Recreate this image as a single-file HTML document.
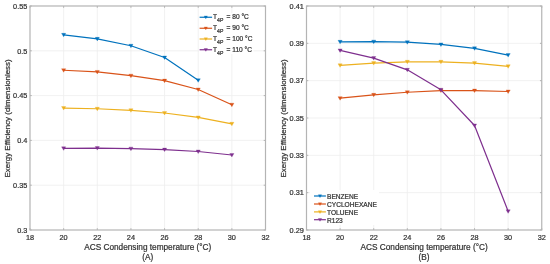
<!DOCTYPE html>
<html><head><meta charset="utf-8"><style>
html,body{margin:0;padding:0;background:#fff;}
svg{display:block;will-change:transform;filter:blur(0.3px);}
text{font-family:"Liberation Sans",sans-serif;stroke:#333;stroke-width:0.22px;}
</style></head><body>
<svg width="550" height="264" viewBox="0 0 550 264" font-family="Liberation Sans, sans-serif">
<rect width="550" height="264" fill="#fff"/>
<line x1="63.64" y1="6.0" x2="63.64" y2="230.0" stroke="#ededed" stroke-width="0.8"/>
<line x1="97.29" y1="6.0" x2="97.29" y2="230.0" stroke="#ededed" stroke-width="0.8"/>
<line x1="130.93" y1="6.0" x2="130.93" y2="230.0" stroke="#ededed" stroke-width="0.8"/>
<line x1="164.57" y1="6.0" x2="164.57" y2="230.0" stroke="#ededed" stroke-width="0.8"/>
<line x1="198.21" y1="6.0" x2="198.21" y2="230.0" stroke="#ededed" stroke-width="0.8"/>
<line x1="231.86" y1="6.0" x2="231.86" y2="230.0" stroke="#ededed" stroke-width="0.8"/>
<line x1="30.0" y1="185.20" x2="265.5" y2="185.20" stroke="#ededed" stroke-width="0.8"/>
<line x1="30.0" y1="140.40" x2="265.5" y2="140.40" stroke="#ededed" stroke-width="0.8"/>
<line x1="30.0" y1="95.60" x2="265.5" y2="95.60" stroke="#ededed" stroke-width="0.8"/>
<line x1="30.0" y1="50.80" x2="265.5" y2="50.80" stroke="#ededed" stroke-width="0.8"/>
<polyline points="63.64,34.85 97.29,38.88 130.93,45.78 164.57,57.52 198.21,80.28" fill="none" stroke="#0072BD" stroke-width="1.2" stroke-linejoin="round"/>
<path d="M61.54,33.34L65.74,33.34L63.64,36.85Z" fill="#0072BD" stroke="#0072BD" stroke-width="0.3"/>
<path d="M95.19,37.37L99.39,37.37L97.29,40.88Z" fill="#0072BD" stroke="#0072BD" stroke-width="0.3"/>
<path d="M128.83,44.27L133.03,44.27L130.93,47.78Z" fill="#0072BD" stroke="#0072BD" stroke-width="0.3"/>
<path d="M162.47,56.01L166.67,56.01L164.57,59.52Z" fill="#0072BD" stroke="#0072BD" stroke-width="0.3"/>
<path d="M196.11,78.77L200.31,78.77L198.21,82.27Z" fill="#0072BD" stroke="#0072BD" stroke-width="0.3"/>
<polyline points="63.64,70.24 97.29,71.95 130.93,75.71 164.57,80.64 198.21,89.51 231.86,104.74" fill="none" stroke="#D95319" stroke-width="1.2" stroke-linejoin="round"/>
<path d="M61.54,68.73L65.74,68.73L63.64,72.24Z" fill="#D95319" stroke="#D95319" stroke-width="0.3"/>
<path d="M95.19,70.43L99.39,70.43L97.29,73.94Z" fill="#D95319" stroke="#D95319" stroke-width="0.3"/>
<path d="M128.83,74.20L133.03,74.20L130.93,77.70Z" fill="#D95319" stroke="#D95319" stroke-width="0.3"/>
<path d="M162.47,79.12L166.67,79.12L164.57,82.63Z" fill="#D95319" stroke="#D95319" stroke-width="0.3"/>
<path d="M196.11,88.00L200.31,88.00L198.21,91.50Z" fill="#D95319" stroke="#D95319" stroke-width="0.3"/>
<path d="M229.76,103.23L233.96,103.23L231.86,106.73Z" fill="#D95319" stroke="#D95319" stroke-width="0.3"/>
<polyline points="63.64,108.05 97.29,108.77 130.93,110.29 164.57,112.98 198.21,117.46 231.86,123.82" fill="none" stroke="#EDB120" stroke-width="1.2" stroke-linejoin="round"/>
<path d="M61.54,106.54L65.74,106.54L63.64,110.05Z" fill="#EDB120" stroke="#EDB120" stroke-width="0.3"/>
<path d="M95.19,107.26L99.39,107.26L97.29,110.77Z" fill="#EDB120" stroke="#EDB120" stroke-width="0.3"/>
<path d="M128.83,108.78L133.03,108.78L130.93,112.29Z" fill="#EDB120" stroke="#EDB120" stroke-width="0.3"/>
<path d="M162.47,111.47L166.67,111.47L164.57,114.98Z" fill="#EDB120" stroke="#EDB120" stroke-width="0.3"/>
<path d="M196.11,115.95L200.31,115.95L198.21,119.46Z" fill="#EDB120" stroke="#EDB120" stroke-width="0.3"/>
<path d="M229.76,122.31L233.96,122.31L231.86,125.82Z" fill="#EDB120" stroke="#EDB120" stroke-width="0.3"/>
<polyline points="63.64,148.37 97.29,148.11 130.93,148.64 164.57,149.63 198.21,151.51 231.86,155.00" fill="none" stroke="#7E2F8E" stroke-width="1.2" stroke-linejoin="round"/>
<path d="M61.54,146.86L65.74,146.86L63.64,150.37Z" fill="#7E2F8E" stroke="#7E2F8E" stroke-width="0.3"/>
<path d="M95.19,146.59L99.39,146.59L97.29,150.10Z" fill="#7E2F8E" stroke="#7E2F8E" stroke-width="0.3"/>
<path d="M128.83,147.13L133.03,147.13L130.93,150.64Z" fill="#7E2F8E" stroke="#7E2F8E" stroke-width="0.3"/>
<path d="M162.47,148.12L166.67,148.12L164.57,151.62Z" fill="#7E2F8E" stroke="#7E2F8E" stroke-width="0.3"/>
<path d="M196.11,150.00L200.31,150.00L198.21,153.51Z" fill="#7E2F8E" stroke="#7E2F8E" stroke-width="0.3"/>
<path d="M229.76,153.49L233.96,153.49L231.86,157.00Z" fill="#7E2F8E" stroke="#7E2F8E" stroke-width="0.3"/>
<rect x="199" y="13" width="54.5" height="41" fill="#fff"/>
<line x1="199.6" y1="17.25" x2="212.1" y2="17.25" stroke="#0072BD" stroke-width="1.2"/>
<path d="M204.10,16.03L207.50,16.03L205.80,18.86Z" fill="#0072BD" stroke="#0072BD" stroke-width="0.3"/>
<text x="213" y="19.15" font-size="6.6" fill="#333333">T<tspan x="217.1" font-size="5.1" dy="2.9">4P</tspan><tspan x="226.6" dy="-2.9">= 80 °C</tspan></text>
<line x1="199.6" y1="28.25" x2="212.1" y2="28.25" stroke="#D95319" stroke-width="1.2"/>
<path d="M204.10,27.03L207.50,27.03L205.80,29.86Z" fill="#D95319" stroke="#D95319" stroke-width="0.3"/>
<text x="213" y="30.15" font-size="6.6" fill="#333333">T<tspan x="217.1" font-size="5.1" dy="2.9">4P</tspan><tspan x="226.6" dy="-2.9">= 90 °C</tspan></text>
<line x1="199.6" y1="39.0" x2="212.1" y2="39.0" stroke="#EDB120" stroke-width="1.2"/>
<path d="M204.10,37.78L207.50,37.78L205.80,40.62Z" fill="#EDB120" stroke="#EDB120" stroke-width="0.3"/>
<text x="213" y="40.9" font-size="6.6" fill="#333333">T<tspan x="217.1" font-size="5.1" dy="2.9">4P</tspan><tspan x="226.6" dy="-2.9">= 100 °C</tspan></text>
<line x1="199.6" y1="49.75" x2="212.1" y2="49.75" stroke="#7E2F8E" stroke-width="1.2"/>
<path d="M204.10,48.53L207.50,48.53L205.80,51.37Z" fill="#7E2F8E" stroke="#7E2F8E" stroke-width="0.3"/>
<text x="213" y="51.65" font-size="6.6" fill="#333333">T<tspan x="217.1" font-size="5.1" dy="2.9">4P</tspan><tspan x="226.6" dy="-2.9">= 110 °C</tspan></text>
<rect x="30.0" y="6.0" width="235.5" height="224.0" fill="none" stroke="#b4b4b4" stroke-width="1.2"/>
<line x1="30.00" y1="230.0" x2="30.00" y2="228.2" stroke="#b4b4b4" stroke-width="1"/>
<line x1="30.00" y1="6.0" x2="30.00" y2="7.8" stroke="#b4b4b4" stroke-width="1"/>
<text x="30.00" y="240.4" text-anchor="middle" font-size="7.3" fill="#333333">18</text>
<line x1="63.64" y1="230.0" x2="63.64" y2="228.2" stroke="#b4b4b4" stroke-width="1"/>
<line x1="63.64" y1="6.0" x2="63.64" y2="7.8" stroke="#b4b4b4" stroke-width="1"/>
<text x="63.64" y="240.4" text-anchor="middle" font-size="7.3" fill="#333333">20</text>
<line x1="97.29" y1="230.0" x2="97.29" y2="228.2" stroke="#b4b4b4" stroke-width="1"/>
<line x1="97.29" y1="6.0" x2="97.29" y2="7.8" stroke="#b4b4b4" stroke-width="1"/>
<text x="97.29" y="240.4" text-anchor="middle" font-size="7.3" fill="#333333">22</text>
<line x1="130.93" y1="230.0" x2="130.93" y2="228.2" stroke="#b4b4b4" stroke-width="1"/>
<line x1="130.93" y1="6.0" x2="130.93" y2="7.8" stroke="#b4b4b4" stroke-width="1"/>
<text x="130.93" y="240.4" text-anchor="middle" font-size="7.3" fill="#333333">24</text>
<line x1="164.57" y1="230.0" x2="164.57" y2="228.2" stroke="#b4b4b4" stroke-width="1"/>
<line x1="164.57" y1="6.0" x2="164.57" y2="7.8" stroke="#b4b4b4" stroke-width="1"/>
<text x="164.57" y="240.4" text-anchor="middle" font-size="7.3" fill="#333333">26</text>
<line x1="198.21" y1="230.0" x2="198.21" y2="228.2" stroke="#b4b4b4" stroke-width="1"/>
<line x1="198.21" y1="6.0" x2="198.21" y2="7.8" stroke="#b4b4b4" stroke-width="1"/>
<text x="198.21" y="240.4" text-anchor="middle" font-size="7.3" fill="#333333">28</text>
<line x1="231.86" y1="230.0" x2="231.86" y2="228.2" stroke="#b4b4b4" stroke-width="1"/>
<line x1="231.86" y1="6.0" x2="231.86" y2="7.8" stroke="#b4b4b4" stroke-width="1"/>
<text x="231.86" y="240.4" text-anchor="middle" font-size="7.3" fill="#333333">30</text>
<line x1="265.50" y1="230.0" x2="265.50" y2="228.2" stroke="#b4b4b4" stroke-width="1"/>
<line x1="265.50" y1="6.0" x2="265.50" y2="7.8" stroke="#b4b4b4" stroke-width="1"/>
<text x="265.50" y="240.4" text-anchor="middle" font-size="7.3" fill="#333333">32</text>
<line x1="30.0" y1="230.00" x2="31.8" y2="230.00" stroke="#b4b4b4" stroke-width="1"/>
<line x1="265.5" y1="230.00" x2="263.7" y2="230.00" stroke="#b4b4b4" stroke-width="1"/>
<text x="27.30" y="232.70" text-anchor="end" font-size="7.3" fill="#333333">0.3</text>
<line x1="30.0" y1="185.20" x2="31.8" y2="185.20" stroke="#b4b4b4" stroke-width="1"/>
<line x1="265.5" y1="185.20" x2="263.7" y2="185.20" stroke="#b4b4b4" stroke-width="1"/>
<text x="27.30" y="187.90" text-anchor="end" font-size="7.3" fill="#333333">0.35</text>
<line x1="30.0" y1="140.40" x2="31.8" y2="140.40" stroke="#b4b4b4" stroke-width="1"/>
<line x1="265.5" y1="140.40" x2="263.7" y2="140.40" stroke="#b4b4b4" stroke-width="1"/>
<text x="27.30" y="143.10" text-anchor="end" font-size="7.3" fill="#333333">0.4</text>
<line x1="30.0" y1="95.60" x2="31.8" y2="95.60" stroke="#b4b4b4" stroke-width="1"/>
<line x1="265.5" y1="95.60" x2="263.7" y2="95.60" stroke="#b4b4b4" stroke-width="1"/>
<text x="27.30" y="98.30" text-anchor="end" font-size="7.3" fill="#333333">0.45</text>
<line x1="30.0" y1="50.80" x2="31.8" y2="50.80" stroke="#b4b4b4" stroke-width="1"/>
<line x1="265.5" y1="50.80" x2="263.7" y2="50.80" stroke="#b4b4b4" stroke-width="1"/>
<text x="27.30" y="53.50" text-anchor="end" font-size="7.3" fill="#333333">0.5</text>
<line x1="30.0" y1="6.00" x2="31.8" y2="6.00" stroke="#b4b4b4" stroke-width="1"/>
<line x1="265.5" y1="6.00" x2="263.7" y2="6.00" stroke="#b4b4b4" stroke-width="1"/>
<text x="27.30" y="8.70" text-anchor="end" font-size="7.3" fill="#333333">0.55</text>
<text x="147.75" y="250" text-anchor="middle" font-size="8.25" fill="#333333">ACS Condensing temperature (°C)</text>
<text x="147.75" y="260" text-anchor="middle" font-size="8.25" fill="#333333">(A)</text>
<text transform="translate(9.6,118.40) rotate(-90)" text-anchor="middle" font-size="7.92" fill="#333333">Exergy Efficiency (dimensionless)</text>
<line x1="340.11" y1="6.0" x2="340.11" y2="230.0" stroke="#ededed" stroke-width="0.8"/>
<line x1="373.71" y1="6.0" x2="373.71" y2="230.0" stroke="#ededed" stroke-width="0.8"/>
<line x1="407.32" y1="6.0" x2="407.32" y2="230.0" stroke="#ededed" stroke-width="0.8"/>
<line x1="440.93" y1="6.0" x2="440.93" y2="230.0" stroke="#ededed" stroke-width="0.8"/>
<line x1="474.54" y1="6.0" x2="474.54" y2="230.0" stroke="#ededed" stroke-width="0.8"/>
<line x1="508.14" y1="6.0" x2="508.14" y2="230.0" stroke="#ededed" stroke-width="0.8"/>
<line x1="306.5" y1="192.67" x2="541.75" y2="192.67" stroke="#ededed" stroke-width="0.8"/>
<line x1="306.5" y1="155.33" x2="541.75" y2="155.33" stroke="#ededed" stroke-width="0.8"/>
<line x1="306.5" y1="118.00" x2="541.75" y2="118.00" stroke="#ededed" stroke-width="0.8"/>
<line x1="306.5" y1="80.67" x2="541.75" y2="80.67" stroke="#ededed" stroke-width="0.8"/>
<line x1="306.5" y1="43.33" x2="541.75" y2="43.33" stroke="#ededed" stroke-width="0.8"/>
<polyline points="340.11,41.84 373.71,41.65 407.32,42.21 440.93,44.45 474.54,48.37 508.14,55.09" fill="none" stroke="#0072BD" stroke-width="1.2" stroke-linejoin="round"/>
<path d="M338.01,40.33L342.21,40.33L340.11,43.83Z" fill="#0072BD" stroke="#0072BD" stroke-width="0.3"/>
<path d="M371.61,40.14L375.81,40.14L373.71,43.65Z" fill="#0072BD" stroke="#0072BD" stroke-width="0.3"/>
<path d="M405.22,40.70L409.42,40.70L407.32,44.21Z" fill="#0072BD" stroke="#0072BD" stroke-width="0.3"/>
<path d="M438.83,42.94L443.03,42.94L440.93,46.45Z" fill="#0072BD" stroke="#0072BD" stroke-width="0.3"/>
<path d="M472.44,46.86L476.64,46.86L474.54,50.37Z" fill="#0072BD" stroke="#0072BD" stroke-width="0.3"/>
<path d="M506.04,53.58L510.24,53.58L508.14,57.09Z" fill="#0072BD" stroke="#0072BD" stroke-width="0.3"/>
<polyline points="340.11,98.21 373.71,94.85 407.32,92.24 440.93,90.56 474.54,90.56 508.14,91.49" fill="none" stroke="#D95319" stroke-width="1.2" stroke-linejoin="round"/>
<path d="M338.01,96.70L342.21,96.70L340.11,100.21Z" fill="#D95319" stroke="#D95319" stroke-width="0.3"/>
<path d="M371.61,93.34L375.81,93.34L373.71,96.85Z" fill="#D95319" stroke="#D95319" stroke-width="0.3"/>
<path d="M405.22,90.73L409.42,90.73L407.32,94.23Z" fill="#D95319" stroke="#D95319" stroke-width="0.3"/>
<path d="M438.83,89.05L443.03,89.05L440.93,92.55Z" fill="#D95319" stroke="#D95319" stroke-width="0.3"/>
<path d="M472.44,89.05L476.64,89.05L474.54,92.55Z" fill="#D95319" stroke="#D95319" stroke-width="0.3"/>
<path d="M506.04,89.98L510.24,89.98L508.14,93.49Z" fill="#D95319" stroke="#D95319" stroke-width="0.3"/>
<polyline points="340.11,65.36 373.71,63.12 407.32,61.81 440.93,61.81 474.54,63.12 508.14,66.29" fill="none" stroke="#EDB120" stroke-width="1.2" stroke-linejoin="round"/>
<path d="M338.01,63.85L342.21,63.85L340.11,67.36Z" fill="#EDB120" stroke="#EDB120" stroke-width="0.3"/>
<path d="M371.61,61.61L375.81,61.61L373.71,65.11Z" fill="#EDB120" stroke="#EDB120" stroke-width="0.3"/>
<path d="M405.22,60.30L409.42,60.30L407.32,63.81Z" fill="#EDB120" stroke="#EDB120" stroke-width="0.3"/>
<path d="M438.83,60.30L443.03,60.30L440.93,63.81Z" fill="#EDB120" stroke="#EDB120" stroke-width="0.3"/>
<path d="M472.44,61.61L476.64,61.61L474.54,65.11Z" fill="#EDB120" stroke="#EDB120" stroke-width="0.3"/>
<path d="M506.04,64.78L510.24,64.78L508.14,68.29Z" fill="#EDB120" stroke="#EDB120" stroke-width="0.3"/>
<polyline points="340.11,50.43 373.71,58.08 407.32,69.84 440.93,89.81 474.54,125.47 508.14,211.33" fill="none" stroke="#7E2F8E" stroke-width="1.2" stroke-linejoin="round"/>
<path d="M338.01,48.91L342.21,48.91L340.11,52.42Z" fill="#7E2F8E" stroke="#7E2F8E" stroke-width="0.3"/>
<path d="M371.61,56.57L375.81,56.57L373.71,60.07Z" fill="#7E2F8E" stroke="#7E2F8E" stroke-width="0.3"/>
<path d="M405.22,68.33L409.42,68.33L407.32,71.83Z" fill="#7E2F8E" stroke="#7E2F8E" stroke-width="0.3"/>
<path d="M438.83,88.30L443.03,88.30L440.93,91.81Z" fill="#7E2F8E" stroke="#7E2F8E" stroke-width="0.3"/>
<path d="M472.44,123.95L476.64,123.95L474.54,127.46Z" fill="#7E2F8E" stroke="#7E2F8E" stroke-width="0.3"/>
<path d="M506.04,209.82L510.24,209.82L508.14,213.33Z" fill="#7E2F8E" stroke="#7E2F8E" stroke-width="0.3"/>
<rect x="310" y="190" width="69" height="35" fill="#fff"/>
<line x1="314" y1="196.0" x2="325.9" y2="196.0" stroke="#0072BD" stroke-width="1.2"/>
<path d="M318.30,194.78L321.70,194.78L320.00,197.62Z" fill="#0072BD" stroke="#0072BD" stroke-width="0.3"/>
<text x="327" y="198.8" font-size="6.6" fill="#333333">BENZENE</text>
<line x1="314" y1="204.0" x2="325.9" y2="204.0" stroke="#D95319" stroke-width="1.2"/>
<path d="M318.30,202.78L321.70,202.78L320.00,205.62Z" fill="#D95319" stroke="#D95319" stroke-width="0.3"/>
<text x="327" y="206.8" font-size="6.6" fill="#333333">CYCLOHEXANE</text>
<line x1="314" y1="211.9" x2="325.9" y2="211.9" stroke="#EDB120" stroke-width="1.2"/>
<path d="M318.30,210.68L321.70,210.68L320.00,213.52Z" fill="#EDB120" stroke="#EDB120" stroke-width="0.3"/>
<text x="327" y="214.70000000000002" font-size="6.6" fill="#333333">TOLUENE</text>
<line x1="314" y1="219.7" x2="325.9" y2="219.7" stroke="#7E2F8E" stroke-width="1.2"/>
<path d="M318.30,218.48L321.70,218.48L320.00,221.31Z" fill="#7E2F8E" stroke="#7E2F8E" stroke-width="0.3"/>
<text x="327" y="222.5" font-size="6.6" fill="#333333">R123</text>
<rect x="306.5" y="6.0" width="235.25" height="224.0" fill="none" stroke="#b4b4b4" stroke-width="1.2"/>
<line x1="306.50" y1="230.0" x2="306.50" y2="228.2" stroke="#b4b4b4" stroke-width="1"/>
<line x1="306.50" y1="6.0" x2="306.50" y2="7.8" stroke="#b4b4b4" stroke-width="1"/>
<text x="306.50" y="240.4" text-anchor="middle" font-size="7.3" fill="#333333">18</text>
<line x1="340.11" y1="230.0" x2="340.11" y2="228.2" stroke="#b4b4b4" stroke-width="1"/>
<line x1="340.11" y1="6.0" x2="340.11" y2="7.8" stroke="#b4b4b4" stroke-width="1"/>
<text x="340.11" y="240.4" text-anchor="middle" font-size="7.3" fill="#333333">20</text>
<line x1="373.71" y1="230.0" x2="373.71" y2="228.2" stroke="#b4b4b4" stroke-width="1"/>
<line x1="373.71" y1="6.0" x2="373.71" y2="7.8" stroke="#b4b4b4" stroke-width="1"/>
<text x="373.71" y="240.4" text-anchor="middle" font-size="7.3" fill="#333333">22</text>
<line x1="407.32" y1="230.0" x2="407.32" y2="228.2" stroke="#b4b4b4" stroke-width="1"/>
<line x1="407.32" y1="6.0" x2="407.32" y2="7.8" stroke="#b4b4b4" stroke-width="1"/>
<text x="407.32" y="240.4" text-anchor="middle" font-size="7.3" fill="#333333">24</text>
<line x1="440.93" y1="230.0" x2="440.93" y2="228.2" stroke="#b4b4b4" stroke-width="1"/>
<line x1="440.93" y1="6.0" x2="440.93" y2="7.8" stroke="#b4b4b4" stroke-width="1"/>
<text x="440.93" y="240.4" text-anchor="middle" font-size="7.3" fill="#333333">26</text>
<line x1="474.54" y1="230.0" x2="474.54" y2="228.2" stroke="#b4b4b4" stroke-width="1"/>
<line x1="474.54" y1="6.0" x2="474.54" y2="7.8" stroke="#b4b4b4" stroke-width="1"/>
<text x="474.54" y="240.4" text-anchor="middle" font-size="7.3" fill="#333333">28</text>
<line x1="508.14" y1="230.0" x2="508.14" y2="228.2" stroke="#b4b4b4" stroke-width="1"/>
<line x1="508.14" y1="6.0" x2="508.14" y2="7.8" stroke="#b4b4b4" stroke-width="1"/>
<text x="508.14" y="240.4" text-anchor="middle" font-size="7.3" fill="#333333">30</text>
<line x1="541.75" y1="230.0" x2="541.75" y2="228.2" stroke="#b4b4b4" stroke-width="1"/>
<line x1="541.75" y1="6.0" x2="541.75" y2="7.8" stroke="#b4b4b4" stroke-width="1"/>
<text x="541.75" y="240.4" text-anchor="middle" font-size="7.3" fill="#333333">32</text>
<line x1="306.5" y1="230.00" x2="308.3" y2="230.00" stroke="#b4b4b4" stroke-width="1"/>
<line x1="541.75" y1="230.00" x2="539.95" y2="230.00" stroke="#b4b4b4" stroke-width="1"/>
<text x="303.80" y="232.70" text-anchor="end" font-size="7.3" fill="#333333">0.29</text>
<line x1="306.5" y1="192.67" x2="308.3" y2="192.67" stroke="#b4b4b4" stroke-width="1"/>
<line x1="541.75" y1="192.67" x2="539.95" y2="192.67" stroke="#b4b4b4" stroke-width="1"/>
<text x="303.80" y="195.37" text-anchor="end" font-size="7.3" fill="#333333">0.31</text>
<line x1="306.5" y1="155.33" x2="308.3" y2="155.33" stroke="#b4b4b4" stroke-width="1"/>
<line x1="541.75" y1="155.33" x2="539.95" y2="155.33" stroke="#b4b4b4" stroke-width="1"/>
<text x="303.80" y="158.03" text-anchor="end" font-size="7.3" fill="#333333">0.33</text>
<line x1="306.5" y1="118.00" x2="308.3" y2="118.00" stroke="#b4b4b4" stroke-width="1"/>
<line x1="541.75" y1="118.00" x2="539.95" y2="118.00" stroke="#b4b4b4" stroke-width="1"/>
<text x="303.80" y="120.70" text-anchor="end" font-size="7.3" fill="#333333">0.35</text>
<line x1="306.5" y1="80.67" x2="308.3" y2="80.67" stroke="#b4b4b4" stroke-width="1"/>
<line x1="541.75" y1="80.67" x2="539.95" y2="80.67" stroke="#b4b4b4" stroke-width="1"/>
<text x="303.80" y="83.37" text-anchor="end" font-size="7.3" fill="#333333">0.37</text>
<line x1="306.5" y1="43.33" x2="308.3" y2="43.33" stroke="#b4b4b4" stroke-width="1"/>
<line x1="541.75" y1="43.33" x2="539.95" y2="43.33" stroke="#b4b4b4" stroke-width="1"/>
<text x="303.80" y="46.03" text-anchor="end" font-size="7.3" fill="#333333">0.39</text>
<line x1="306.5" y1="6.00" x2="308.3" y2="6.00" stroke="#b4b4b4" stroke-width="1"/>
<line x1="541.75" y1="6.00" x2="539.95" y2="6.00" stroke="#b4b4b4" stroke-width="1"/>
<text x="303.80" y="8.70" text-anchor="end" font-size="7.3" fill="#333333">0.41</text>
<text x="424.12" y="250" text-anchor="middle" font-size="8.25" fill="#333333">ACS Condensing temperature (°C)</text>
<text x="424.12" y="260" text-anchor="middle" font-size="8.25" fill="#333333">(B)</text>
<text transform="translate(286.0,118.40) rotate(-90)" text-anchor="middle" font-size="7.92" fill="#333333">Exergy Efficiency (dimensionless)</text>
</svg>
</body></html>
